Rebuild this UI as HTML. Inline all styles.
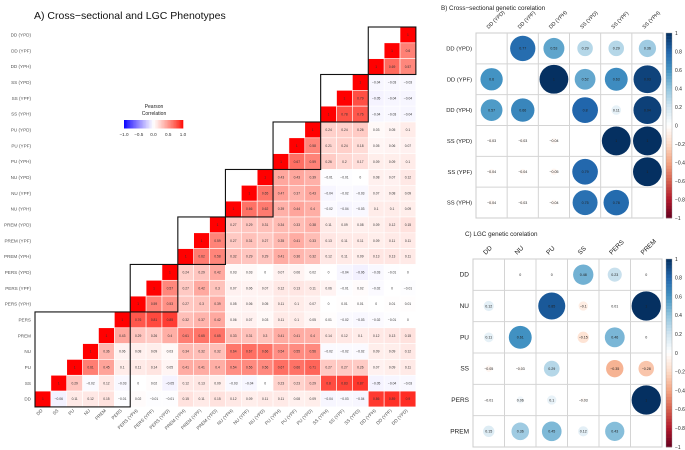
<!DOCTYPE html>
<html><head><meta charset="utf-8"><style>
body{margin:0;background:#fff;}
svg{display:block;font-family:"Liberation Sans",sans-serif;}
</style></head><body>
<svg id="fig" width="685" height="450" viewBox="0 0 685 450" xmlns="http://www.w3.org/2000/svg">
<text x="34" y="19" font-size="10.5" fill="#111">A) Cross−sectional and LGC Phenotypes</text>
<text x="441" y="10" font-size="6.3" fill="#222">B) Cross−sectional genetic corelation</text>
<text x="465" y="236" font-size="6.3" fill="#222">C) LGC genetic corelation</text>
<g id="ga"></g>
<g id="gb"></g>
<g id="gc"></g>
</svg>
<script>
// ---------- Panel A data ----------
const rowLabelsA = ["DD (YPD)","DD (YPF)","DD (YPH)","SS (YPD)","SS (YPF)","SS (YPH)","PU (YPD)","PU (YPF)","PU (YPH)","NU (YPD)","NU (YPF)","NU (YPH)","PREM (YPD)","PREM (YPF)","PREM (YPH)","PERS (YPD)","PERS (YPF)","PERS (YPH)","PERS","PREM","NU","PU","SS","DD"];
const colLabelsA = ["DD","SS","PU","NU","PREM","PERS","PERS (YPH)","PERS (YPF)","PERS (YPD)","PREM (YPH)","PREM (YPF)","PREM (YPD)","NU (YPH)","NU (YPF)","NU (YPD)","PU (YPH)","PU (YPF)","PU (YPD)","SS (YPH)","SS (YPF)","SS (YPD)","DD (YPH)","DD (YPF)","DD (YPD)"];
// each row: values from diagonal column to last column
const valuesA = [
[1],
[1,0.6],
[1,0.69,0.57],
[1,-0.04,-0.03,-0.03],
[1,0.79,-0.05,-0.04,-0.04],
[1,0.78,0.76,-0.04,-0.03,-0.04],
[1,0.24,0.24,0.26,0.03,0.05,0.1],
[1,0.58,0.21,0.24,0.18,0.05,0.06,0.07],
[1,0.67,0.59,0.26,0.2,0.17,0.09,0.09,0.1],
[1,0.43,0.43,0.39,-0.01,-0.01,0,0.08,0.07,0.12],
[1,0.65,0.47,0.37,0.43,-0.04,-0.02,-0.03,0.07,0.08,0.09],
[1,0.66,0.62,0.39,0.44,0.4,-0.02,-0.04,-0.03,0.1,0.1,0.09],
[1,0.27,0.29,0.31,0.34,0.33,0.38,0.11,0.09,0.08,0.09,0.12,0.15],
[1,0.59,0.27,0.31,0.27,0.35,0.41,0.33,0.13,0.11,0.11,0.09,0.11,0.11],
[1,0.62,0.58,0.32,0.29,0.29,0.41,0.36,0.32,0.12,0.11,0.09,0.13,0.13,0.11],
[1,0.24,0.29,0.42,0.03,0.03,0,0.07,0.06,0.02,0,-0.04,-0.06,-0.03,-0.01,0],
[1,0.57,0.27,0.42,0.3,0.07,0.06,0.07,0.12,0.13,0.11,0.06,-0.01,0.02,-0.02,0,-0.01],
[1,0.59,0.53,0.27,0.3,0.39,0.05,0.06,0.05,0.11,0.1,0.07,0,0.01,0.01,0,0.01,0.01],
[1,0.76,0.81,0.85,0.32,0.37,0.42,0.06,0.07,0.03,0.11,0.1,0.05,0.01,-0.02,-0.03,-0.02,-0.01,0],
[1,0.43,0.29,0.26,0.4,0.61,0.65,0.65,0.33,0.31,0.3,0.41,0.41,0.4,0.14,0.12,0.1,0.12,0.13,0.15],
[1,0.36,0.06,0.08,0.09,0.03,0.34,0.32,0.32,0.64,0.67,0.66,0.54,0.55,0.56,-0.02,-0.02,-0.02,0.09,0.09,0.12],
[1,0.61,0.45,0.1,0.11,0.14,0.05,0.41,0.41,0.4,0.54,0.56,0.56,0.67,0.66,0.71,0.27,0.27,0.26,0.07,0.09,0.11],
[1,0.29,-0.02,0.12,-0.03,0,0.02,-0.05,0.12,0.13,0.09,-0.03,-0.04,0,0.23,0.23,0.29,0.8,0.83,0.87,-0.05,-0.04,-0.03],
[1,-0.06,0.11,0.12,0.15,-0.01,0.02,-0.01,-0.01,0.15,0.11,0.15,0.12,0.09,0.11,0.11,0.08,0.09,-0.04,-0.03,-0.04,0.86,0.89,0.9]
];
// block boxes: [firstRow, firstCol, size]
const blocksA = [[0,21,3],[3,18,3],[6,15,3],[9,12,3],[12,9,3],[15,6,3],[18,0,6]];
const legendTicksA = [-1,-0.5,0,0.5,1];
const legendTickLabelsA = ["−1.0","−0.5","0.0","0.5","1.0"];

// ---------- Panel B data ----------
const labelsB = ["DD (YPD)","DD (YPF)","DD (YPH)","SS (YPD)","SS (YPF)","SS (YPH)"];
const valuesB = [
[null,0.77,0.53,0.29,0.29,0.36],
[0.6,null,1,0.52,0.63,0.93],
[0.57,0.66,null,0.8,0.11,0.94],
[-0.03,-0.03,-0.04,null,1,1],
[-0.04,-0.04,-0.05,0.79,null,1],
[-0.04,-0.03,-0.04,0.75,0.78,null]
];
// ---------- Panel C data ----------
const labelsC = ["DD","NU","PU","SS","PERS","PREM"];
const valuesC = [
[null,0,0,0.48,0.23,0],
[0.12,null,0.85,-0.1,0.01,1],
[0.11,0.61,null,-0.15,0.46,0],
[-0.05,-0.03,0.29,null,-0.35,-0.28],
[-0.01,0.06,0.1,-0.03,null,1],
[0.15,0.36,0.45,0.12,0.43,null]
];
const colorbarTicks = [1,0.8,0.6,0.4,0.2,0,-0.2,-0.4,-0.6,-0.8,-1];

const NS="http://www.w3.org/2000/svg";
function mk(tag,attrs,parent){const e=document.createElementNS(NS,tag);for(const k in attrs)e.setAttribute(k,attrs[k]);parent.appendChild(e);return e;}
function fmt(v){if(v===0)return "0";let s=String(v);return s.replace("-","−").replace("0.",v<0?"0.":"0.");}

// color for panel A: blue-white-red
function colA(v){
  const t=Math.abs(v);
  if(v>=0){const g=Math.round(255*Math.pow(1-t,0.75));const b=Math.round(255*Math.pow(1-t,0.85));return `rgb(255,${g},${b})`;}
  const r=Math.round(255*Math.pow(1-t,0.8));return `rgb(${r},${Math.round(255*Math.pow(1-t,0.9))},255)`;
}
// RdBu for B/C
const rdbuStops=[[-1,[103,0,31]],[-0.8,[178,24,43]],[-0.6,[214,96,77]],[-0.4,[244,165,130]],[-0.2,[253,219,199]],[0,[255,255,255]],[0.2,[209,229,240]],[0.4,[146,197,222]],[0.6,[67,147,195]],[0.8,[33,102,172]],[1,[5,48,97]]];
function rdbu(v){
  for(let i=0;i<rdbuStops.length-1;i++){const [a,ca]=rdbuStops[i],[b,cb]=rdbuStops[i+1];
    if(v>=a&&v<=b){const f=(v-a)/(b-a);return `rgb(${ca.map((c,k)=>Math.round(c+(cb[k]-c)*f)).join(",")})`;}}
  return "#fff";
}

// ---------- Panel A ----------
(function(){
  const g=document.getElementById("ga");
  const x0=35,y0=27,cw=15.87,ch=15.83,n=24;
  const xA=j=>x0+j*cw, yA=i=>y0+i*ch;
  valuesA.forEach((row,i)=>{
    const start=n-1-i;
    row.forEach((v,k)=>{
      const j=start+k;
      const r=mk("rect",{x:xA(j),y:yA(i),width:cw,height:ch,fill:colA(v),stroke:"#fff","stroke-width":0.6},g);
      
      
      const t=mk("text",{x:xA(j)+cw/2,y:yA(i)+ch/2+1.2,"font-size":3.3,"text-anchor":"middle",fill:"#333"},g);
      
      
      t.textContent=fmt(v);
    });
  });
  blocksA.forEach(b=>{
    const r=mk("rect",{x:xA(b[1]),y:yA(b[0]),width:b[2]*cw,height:b[2]*ch,fill:"none",stroke:"#111","stroke-width":1.1},g);
    
    
  });
  rowLabelsA.forEach((l,i)=>{
    const t=mk("text",{x:31,y:yA(i)+ch/2+1.6,"font-size":4.6,"text-anchor":"end",fill:"#555"},g);
    
    
    t.textContent=l;
  });
  colLabelsA.forEach((l,j)=>{
    const cx=xA(j)+cw/2, cy=yA(n)+4;
    const t=mk("text",{x:cx,y:cy,"font-size":4.6,"text-anchor":"end",fill:"#555",transform:`rotate(-45 ${cx} ${cy})`},g);
    
    
    t.textContent=l;
  });
  // legend
  const lt1=mk("text",{x:154,y:108,"font-size":5,"text-anchor":"middle",fill:"#222"},g);
  lt1.textContent="Pearson";
  const lt2=mk("text",{x:154,y:115,"font-size":5,"text-anchor":"middle",fill:"#222"},g);
  lt2.textContent="Correlation";
  const lx0=124,lx1=183,steps=40;
  const lxs=v=>lx0+(v+1)/2*(lx1-lx0);
  for(let s=0;s<steps;s++){const v=-1+2*(s+0.5)/steps;
    const r=mk("rect",{x:lxs(-1+2*s/steps),y:120,width:(lx1-lx0)/steps+0.3,height:8.5,fill:colA(v)},g);
    }
  legendTicksA.forEach((v,k)=>{
    const t=mk("text",{x:lxs(v),y:136,"font-size":4.6,"text-anchor":"middle",fill:"#333"},g);
    t.textContent=legendTickLabelsA[k];
  });
})();

// ---------- Corrplots ----------
function corrplot(gid,labels,vals,x0,y0,x1,y1,rowFont,colFont){
  const g=document.getElementById(gid);
  const n=labels.length,cw=(x1-x0)/n,ch=(y1-y0)/n;
  const xs=j=>x0+j*cw, ys=i=>y0+i*ch;
  const bg=mk("rect",{x:x0,y:y0,width:x1-x0,height:y1-y0,fill:"#fff",stroke:"#ccc","stroke-width":1},g);
  
  for(let k=1;k<n;k++){
    const a=mk("line",{x1:xs(k),x2:xs(k),y1:y0,y2:y1,stroke:"#d4d4d4","stroke-width":1},g);
    
    const b=mk("line",{x1:x0,x2:x1,y1:ys(k),y2:ys(k),stroke:"#d4d4d4","stroke-width":1},g);
    
  }
  const rmax=Math.min(cw,ch)/2-1;
  vals.forEach((row,i)=>row.forEach((v,j)=>{
    if(v===null)return;
    const cx=xs(j)+cw/2,cy=ys(i)+ch/2;
    const c=mk("circle",{cx:cx,cy:cy,r:rmax*Math.sqrt(Math.abs(v)),fill:rdbu(v)},g);
    
    const t=mk("text",{x:cx,y:cy+1.3,"font-size":3.6,"text-anchor":"middle",fill:"#222"},g);
    
    t.textContent=fmt(v);
  }));
  labels.forEach((l,i)=>{
    const t=mk("text",{x:x0-4,y:ys(i)+ch/2+2,"font-size":rowFont,"text-anchor":"end",fill:"#222"},g);
    t.textContent=l;
    const cx=xs(i)+cw/2-3,cy=y0-4;
    const u=mk("text",{x:cx,y:cy,"font-size":colFont,"text-anchor":"start",fill:"#222",transform:`rotate(-45 ${cx} ${cy})`},g);
    u.textContent=l;
  });
  // colorbar
  const bx=666,bw=6,steps=60;
  const cy=v=>y0+(1-v)/2*(y1-y0);
  for(let s=0;s<steps;s++){const v=1-2*(s+0.5)/steps;
    const r=mk("rect",{x:bx,y:cy(1-2*s/steps),width:bw,height:(y1-y0)/steps+0.3,fill:rdbu(v)},g);
    }
  const fr=mk("rect",{x:bx,y:y0,width:bw,height:y1-y0,fill:"none",stroke:"#999","stroke-width":0.4},g);
  
  colorbarTicks.forEach(v=>{
    const t=mk("text",{x:675,y:cy(v)+1.8,"font-size":5,fill:"#222"},g);
    
    t.textContent=String(v).replace("-","−");
  });
}
corrplot("gb",labelsB,valuesB,476,33,663,218,5.8,5.2);
corrplot("gc",labelsC,valuesC,473,259,662,447,6.5,6.5);
</script>
</body></html>
